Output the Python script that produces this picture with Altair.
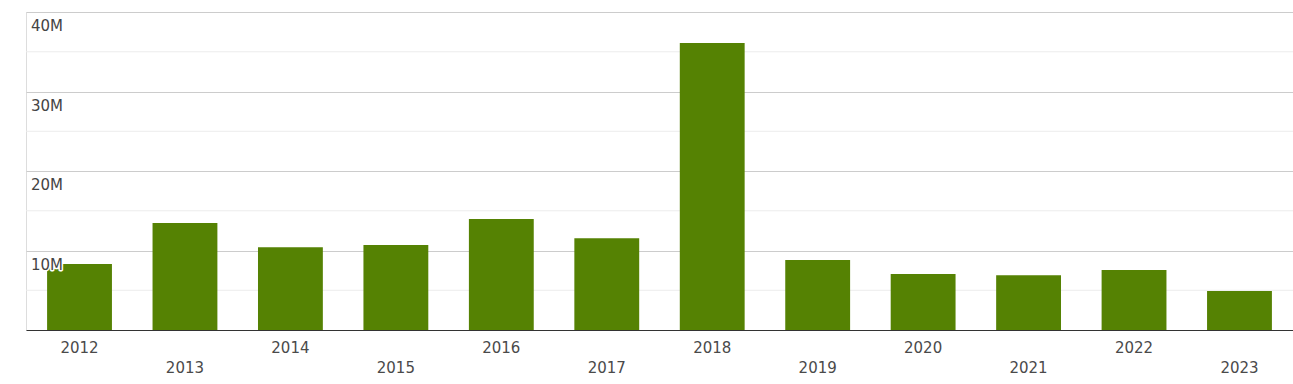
import altair as alt
import pandas as pd

years = [str(y) for y in range(2012, 2024)]
values_m = [8.3, 13.45, 10.4, 10.7, 13.95, 11.55, 36.1, 8.8, 7.05, 6.9, 7.55, 4.9]
major_ticks = [10e6, 20e6, 30e6, 40e6]
minor_ticks = [5e6, 15e6, 25e6, 35e6]
tick_labels = ["10M", "20M", "30M", "40M"]

bars_df = pd.DataFrame({"year": years, "value": [v * 1e6 for v in values_m]})
minor_df = pd.DataFrame({"v": minor_ticks})
labels_df = pd.DataFrame({"v": major_ticks, "label": tick_labels})

yscale = alt.Scale(domain=[0, 40e6], nice=False, zero=True)
FONT = "DejaVu Sans"
FS = 15

bars = alt.Chart(bars_df).mark_bar(color="#558203").encode(
    x=alt.X(
        "year:N",
        sort=years,
        scale=alt.Scale(paddingInner=0.385, paddingOuter=0.2),
        axis=alt.Axis(
            title=None,
            labelAngle=0,
            ticks=False,
            domain=True,
            domainColor="#333333",
            domainWidth=1,
            labelColor="#4a4a4a",
            labelFont=FONT,
            labelFontSize=FS,
            labelPadding=10,
            labelBaseline="top",
            labelLineHeight=20,
            labelExpr="toNumber(datum.value) % 2 == 1 ? ['', datum.label] : datum.label",
            grid=False,
        ),
    ),
    y=alt.Y(
        "value:Q",
        scale=yscale,
        axis=alt.Axis(
            title=None,
            values=major_ticks,
            labels=False,
            ticks=False,
            domain=False,
            grid=True,
            gridColor="#cccccc",
            gridWidth=1,
        ),
    ),
)

minor = alt.Chart(minor_df).mark_rule(color="#ececec", strokeWidth=1).encode(
    y=alt.Y("v:Q", scale=yscale),
)

halo = alt.Chart(labels_df).mark_text(
    align="left", baseline="middle", dy=14, font=FONT, fontSize=FS,
    stroke="white", strokeWidth=3, strokeJoin="round", color="white",
).encode(x=alt.value(5), y=alt.Y("v:Q", scale=yscale), text="label:N")

txt = alt.Chart(labels_df).mark_text(
    align="left", baseline="middle", dy=14, font=FONT, fontSize=FS, color="#444444",
).encode(x=alt.value(5), y=alt.Y("v:Q", scale=yscale), text="label:N")

chart = alt.layer(minor, bars, halo, txt).properties(
    width=1267,
    height=318,
    autosize=alt.AutoSizeParams(type="none"),
    padding={"left": 26, "top": 12, "right": 0, "bottom": 54},
).configure_view(stroke=None).configure(background="white")

chart.save("out.html", embed_options={"renderer": "svg", "actions": False})
